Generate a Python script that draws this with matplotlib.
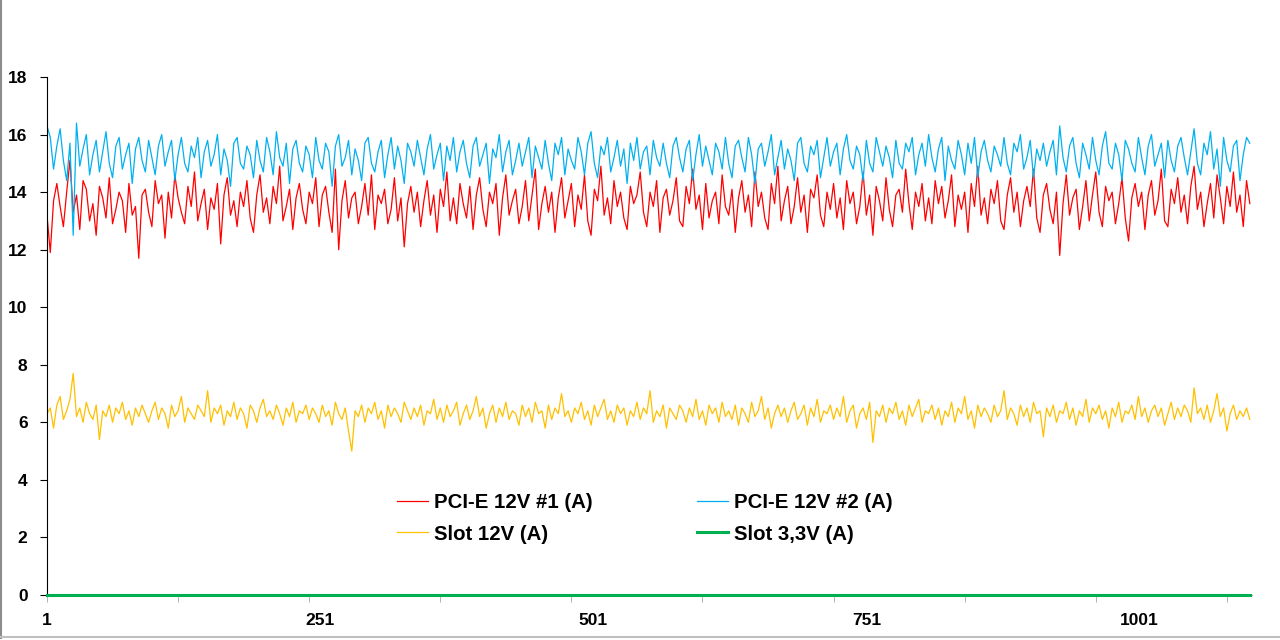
import numpy as np
import matplotlib
matplotlib.use("Agg")
import matplotlib.pyplot as plt
from matplotlib.lines import Line2D

plt.rcParams["font.family"] = ["Liberation Sans", "DejaVu Sans"]
plt.rcParams["font.weight"] = "bold"

# read every 3rd reading (readings 1, 4, 7, ...)
step = 3
n_samples = 1104

pcie1 = [
    13.2, 11.9, 13.7, 14.3, 13.5, 12.8, 14.0, 15.1, 13.3, 13.9, 12.7, 14.4, 14.1, 13.0, 13.6, 12.5,
    14.2, 13.8, 13.1, 14.5, 12.9, 13.4, 14.0, 13.7, 12.6, 14.3, 13.2, 13.5, 11.7, 13.9, 14.1, 13.3,
    12.8, 14.4, 13.6, 13.9, 12.4, 14.0, 13.1, 14.6, 13.8, 13.3, 12.9, 14.2, 13.5, 14.7, 13.0, 13.6,
    14.1, 12.7, 13.8, 13.4, 14.3, 12.2, 13.9, 14.5, 13.2, 13.7, 12.8, 14.0, 13.5, 14.4, 13.1, 12.6,
    13.9, 14.6, 13.3, 13.8, 12.9, 14.2, 13.6, 14.9, 13.0, 13.5, 14.1, 12.7, 13.8, 14.3, 13.4, 12.9,
    14.0, 13.6, 14.5, 12.8, 13.9, 14.2, 13.3, 12.6, 14.8, 12.0, 13.7, 14.4, 13.1, 13.8, 14.0, 12.9,
    13.5, 14.3, 13.2, 14.6, 12.7, 13.9, 13.6, 14.1, 12.9, 13.4, 14.5, 13.0, 13.8, 12.1, 13.6, 14.2,
    13.3, 14.0, 12.8, 13.7, 14.4, 13.2, 13.9, 12.6, 14.1, 13.5, 14.7, 13.0, 13.8, 12.9, 14.3, 13.6,
    13.1, 14.2, 12.7, 13.9, 14.5, 13.4, 12.8, 14.0, 13.6, 14.3, 12.5, 13.8, 14.6, 13.2, 13.7, 14.1,
    12.9, 13.5, 14.4, 13.0, 13.9, 14.8, 12.7, 13.6, 14.2, 13.3, 14.0, 12.6, 13.8, 14.5, 13.1, 13.7,
    14.3, 12.8, 13.9, 13.4, 14.6, 13.0, 12.5, 14.1, 13.7, 14.9, 13.2, 13.8, 12.9, 14.4, 13.5, 14.0,
    13.1, 12.7, 14.2, 13.6, 13.9, 14.7, 13.3, 12.8, 14.0, 13.5, 14.4, 12.6, 13.8, 14.1, 13.2, 13.7,
    14.5, 13.0, 12.8, 14.2, 13.6, 14.8, 13.4, 13.9, 12.7, 14.3, 13.1, 13.7, 14.0, 12.9, 14.6, 13.5,
    13.2, 14.1, 12.6, 13.8, 14.4, 13.3, 13.9, 12.8, 14.7, 13.5, 14.0, 13.1, 12.7, 14.3, 13.6, 14.9,
    13.0, 13.7, 14.2, 12.9, 13.5, 14.5, 13.3, 13.9, 12.6, 14.1, 13.8, 14.6, 13.2, 12.8, 14.0, 13.4,
    14.3, 13.1, 13.8, 12.7, 14.4, 13.6, 14.0, 12.9, 13.5, 14.7, 13.2, 13.9, 12.5, 14.2, 13.7, 13.0,
    14.5, 13.4, 12.8, 13.9, 14.1, 13.3, 14.8, 13.6, 12.7, 14.0, 13.5, 14.3, 13.0, 13.8, 12.9, 14.4,
    13.6, 14.2, 13.1, 13.7, 14.6, 12.8, 13.9, 13.4, 14.0, 12.6, 14.3, 13.5, 14.9, 13.2, 13.8, 12.9,
    14.1, 13.6, 14.4, 13.0, 12.7, 13.9, 14.5, 13.3, 14.0, 12.8, 13.7, 14.2, 13.5, 14.8, 13.1, 12.6,
    13.9, 14.3, 13.4, 12.9, 14.0, 11.8, 13.6, 14.6, 13.2, 13.8, 14.1, 12.7, 13.5, 14.4, 13.0, 13.9,
    14.7, 13.3, 12.8, 14.2, 13.7, 14.0, 12.9, 13.6, 14.5, 13.1, 12.3, 13.8, 14.3, 13.5, 14.0, 12.7,
    13.9, 14.4, 13.2, 13.7, 14.8, 13.0, 12.8, 14.1, 13.6, 14.5, 13.3, 13.9, 12.9, 14.2, 14.9, 13.4,
    14.0, 12.8, 13.6, 14.3, 13.1, 14.6, 13.8, 12.9, 14.2, 13.5, 14.7, 13.3, 13.9, 12.8, 14.4, 13.6,
]

pcie2 = [
    16.3, 15.9, 14.8, 15.6, 16.2, 15.1, 14.4, 15.7, 12.5, 16.4, 14.9, 15.5, 16.0, 14.6, 15.3, 15.8,
    14.7, 15.4, 16.1, 15.0, 14.5, 15.6, 15.9, 14.8, 15.3, 15.7, 14.3, 15.5, 15.9, 15.1, 14.7, 15.8,
    15.2, 14.6, 15.6, 16.0, 14.9, 15.4, 15.8, 14.4, 15.3, 15.9, 15.0, 14.7, 15.6, 15.2, 15.9, 14.5,
    15.4, 15.8, 14.9, 15.3, 16.0, 14.6, 15.5, 15.1, 14.2, 15.7, 15.9, 15.0, 14.8, 15.6, 15.3, 14.5,
    15.8, 15.1, 14.7, 15.9, 15.4, 14.6, 16.1, 15.2, 14.9, 15.7, 14.3, 15.5, 15.8, 15.0, 14.7, 15.6,
    15.3, 14.5, 15.9, 15.1, 14.8, 15.7, 15.4, 14.2, 15.6, 16.0, 14.9, 15.2, 15.8, 14.6, 15.5, 15.1,
    14.4, 15.7, 15.9, 15.0, 14.7, 15.4, 15.8, 14.5, 15.3, 15.9, 14.8, 15.6, 15.1, 14.3, 15.7, 15.4,
    14.9, 15.8, 15.2, 14.6, 15.5, 16.0, 14.8, 15.3, 15.7, 14.4, 15.6, 15.1, 15.9, 14.7, 15.4, 15.8,
    15.0, 14.5, 15.6, 15.9, 14.9, 15.3, 15.7, 14.3, 15.5, 15.2, 16.0, 14.7, 15.4, 15.8, 14.6, 15.1,
    15.7, 14.9, 15.4, 15.9, 14.5, 15.6, 15.2, 14.8, 15.8, 15.0, 14.4, 15.7, 15.3, 15.9, 14.6, 15.5,
    15.1, 14.8, 15.9, 15.4, 14.6, 15.7, 16.1, 15.0, 14.5, 15.6, 15.3, 15.9, 14.7, 15.2, 15.8, 14.9,
    15.5, 14.3, 15.7, 15.1, 15.9, 14.8, 15.4, 15.6, 14.6, 15.8, 15.2, 14.9, 15.7, 15.0, 14.5, 15.6,
    15.9, 15.2, 14.7, 15.5, 15.8, 14.4, 15.3, 16.0, 14.9, 15.6, 15.1, 14.6, 15.7, 15.4, 14.8, 15.9,
    15.0, 14.5, 15.6, 15.8, 15.2, 14.7, 15.9, 15.3, 14.3, 15.5, 15.7, 14.9, 15.4, 16.0, 14.6, 15.2,
    15.8, 14.8, 15.5, 15.1, 14.4, 15.7, 15.9, 15.0, 14.7, 15.6, 15.3, 15.8, 14.5, 15.2, 15.9, 14.9,
    15.4, 15.7, 14.6, 15.5, 16.0, 15.1, 14.8, 15.6, 15.3, 14.4, 15.8, 15.0, 14.7, 15.9, 15.4, 14.9,
    15.6, 15.2, 14.5, 15.8, 15.0, 14.8, 15.7, 15.4, 15.9, 14.6, 15.3, 15.7, 14.9, 16.0, 15.2, 14.7,
    15.5, 15.9, 14.4, 15.6, 15.1, 14.8, 15.8, 15.3, 14.6, 15.7, 15.0, 15.9, 14.5, 15.4, 15.8, 15.1,
    14.7, 15.6, 15.3, 14.9, 15.9, 15.0, 14.6, 15.7, 15.4, 16.0, 14.8, 15.2, 15.8, 14.5, 15.5, 15.1,
    15.7, 14.9, 15.4, 15.8, 14.6, 16.3, 15.2, 14.7, 15.6, 15.9, 15.0, 14.5, 15.7, 15.3, 14.8, 15.9,
    15.1, 14.6, 15.6, 16.1, 15.0, 14.8, 15.7, 15.3, 14.4, 15.8, 15.5, 15.0, 14.7, 15.9, 15.2, 14.6,
    15.6, 16.0, 14.9, 15.3, 15.7, 14.5, 15.8, 15.1, 14.7, 15.6, 15.9, 15.2, 14.6, 15.4, 16.2, 15.0,
    14.6, 15.7, 15.3, 16.1, 14.8, 15.5, 14.2, 15.9, 15.1, 14.7, 15.6, 15.8, 14.4, 15.3, 15.9, 15.7,
]

slot12 = [
    6.3, 6.5, 5.8, 6.6, 6.9, 6.1, 6.4, 6.8, 7.7, 6.2, 6.5, 6.0, 6.7, 6.3, 6.1, 6.6,
    5.4, 6.4, 6.2, 6.6, 6.0, 6.5, 6.3, 6.7, 6.1, 6.4, 5.9, 6.5, 6.2, 6.6, 6.3, 6.0,
    6.4, 6.7, 6.1, 6.5, 6.3, 5.8, 6.6, 6.2, 6.4, 6.9, 6.0, 6.5, 6.3, 6.1, 6.6, 6.4,
    6.2, 7.1, 6.0, 6.5, 6.3, 6.6, 5.9, 6.4, 6.2, 6.7, 6.1, 6.5, 6.3, 5.8, 6.6, 6.4,
    6.0, 6.5, 6.8, 6.2, 6.4, 6.1, 6.6, 6.3, 5.9, 6.5, 6.2, 6.7, 6.0, 6.4, 6.3, 6.6,
    6.1, 6.5, 6.3, 6.0, 6.6, 6.2, 6.4, 5.9, 6.7, 6.3, 6.1, 6.5, 5.7, 5.0, 6.4, 6.2,
    6.6, 6.0, 6.5, 6.3, 6.7, 6.1, 6.4, 5.8, 6.6, 6.2, 6.5, 6.3, 6.0, 6.7, 6.4, 6.1,
    6.5, 6.2, 6.6, 5.9, 6.4, 6.3, 6.8, 6.1, 6.5, 6.0, 6.6, 6.2, 6.4, 6.7, 5.9, 6.3,
    6.6, 6.1, 6.4, 6.9, 6.2, 6.5, 5.8, 6.3, 6.6, 6.0, 6.5, 6.2, 6.7, 6.1, 6.4, 6.3,
    5.9, 6.6, 6.2, 6.5, 6.0, 6.7, 6.3, 6.4, 5.8, 6.6, 6.1, 6.5, 6.3, 7.0, 6.2, 6.4,
    6.0, 6.5, 6.3, 6.7, 6.1, 6.4, 5.9, 6.6, 6.2, 6.5, 6.8, 6.1, 6.4, 6.0, 6.6, 6.3,
    6.5, 5.9, 6.4, 6.2, 6.7, 6.1, 6.5, 6.3, 7.1, 6.0, 6.4, 6.2, 6.6, 5.8, 6.5, 6.3,
    6.1, 6.6, 6.4, 6.0, 6.5, 6.2, 6.8, 6.1, 6.4, 5.9, 6.6, 6.3, 6.5, 6.0, 6.7, 6.2,
    6.4, 6.1, 6.6, 5.9, 6.5, 6.3, 6.0, 6.7, 6.2, 6.4, 6.9, 6.1, 6.5, 5.8, 6.3, 6.6,
    6.2, 6.5, 6.0, 6.4, 6.7, 6.1, 6.3, 6.6, 5.9, 6.5, 6.2, 6.8, 6.0, 6.4, 6.3, 6.6,
    6.1, 6.5, 6.2, 6.9, 6.0, 6.4, 6.6, 5.8, 6.3, 6.5, 6.1, 6.7, 5.3, 6.4, 6.2, 6.6,
    6.0, 6.5, 6.3, 6.7, 6.1, 6.4, 5.9, 6.6, 6.2, 6.5, 6.8, 6.0, 6.4, 6.3, 6.6, 6.1,
    6.5, 5.9, 6.4, 6.2, 6.7, 6.0, 6.5, 6.3, 6.9, 6.1, 6.4, 5.8, 6.6, 6.2, 6.5, 6.3,
    6.0, 6.6, 6.2, 6.4, 7.1, 6.1, 6.5, 6.3, 5.9, 6.6, 6.2, 6.5, 6.0, 6.7, 6.3, 6.4,
    5.5, 6.5, 6.2, 6.6, 6.0, 6.4, 6.3, 6.7, 6.1, 6.5, 5.9, 6.4, 6.2, 6.8, 6.0, 6.5,
    6.3, 6.6, 6.1, 6.4, 5.8, 6.5, 6.2, 6.7, 6.0, 6.4, 6.3, 6.6, 6.1, 6.9, 6.2, 6.5,
    6.0, 6.4, 6.6, 6.2, 6.5, 5.9, 6.3, 6.7, 6.1, 6.5, 6.2, 6.6, 6.4, 6.0, 7.2, 6.3,
    6.5, 6.1, 6.6, 6.0, 6.4, 7.0, 6.2, 6.5, 5.7, 6.3, 6.6, 6.1, 6.4, 6.2, 6.5, 6.1,
]

# the 3,3V slot rail stays at zero the whole run
slot33 = [0.0] * len(pcie1)

labels = ["PCI-E 12V #1 (A)", "PCI-E 12V #2 (A)", "Slot 12V (A)", "Slot 3,3V (A)"]
colors = ["#FF0000", "#00B0F0", "#FFC000", "#00B050"]
x_labels = ["1", "251", "501", "751", "1001"]

fig = plt.figure(figsize=(12.8, 6.4), dpi=100)
ax = fig.add_axes([47 / 1280, 45 / 640, 1205 / 1280, 518 / 640])

series = [pcie1, pcie2, slot12, slot33]
widths = [0.9, 0.9, 0.9, 2.2]
handles = []
for vals, lab, col, lw in zip(series, labels, colors, widths):
    xs = np.arange(1, step * len(vals) + 1, step)
    thick = lw > 2
    h, = ax.plot(xs, vals, color=col, lw=lw, label=lab, zorder=3 if thick else 2,
                 clip_on=not thick)
    handles.append(h)

ax.set_xlim(1, n_samples)
ax.set_ylim(0, 18)
ax.set_yticks(range(0, 19, 2))

# labels every 250 readings, tick marks every 120 (Excel style axis)
ax.xaxis.remove_overlapping_locs = False
ax.set_xticks([int(s) for s in x_labels])
ax.set_xticklabels(x_labels)
ax.set_xticks(np.arange(1, n_samples, 120), minor=True)
ax.tick_params(axis="x", which="major", length=0, pad=13, labelsize=12.5)
ax.tick_params(axis="x", which="minor", length=5, color="#a6a6a6", direction="out")
ax.tick_params(axis="y", length=5, color="black", direction="out", labelsize=12.5, pad=9)

for side in ["top", "right"]:
    ax.spines[side].set_visible(False)
ax.spines["left"].set_color("black")
ax.spines["bottom"].set_color("#a6a6a6")

# row-wise order: #1, #2 on top, slot rails below
order = [0, 2, 1, 3]
ax.legend([handles[i] for i in order], [labels[i] for i in order],
          loc="center", bbox_to_anchor=(0.504, 0.19), bbox_transform=fig.transFigure,
          ncol=2, frameon=False, fontsize=14.7, handlelength=1.52, handletextpad=0.3,
          columnspacing=5.1, labelspacing=0.6)

# chart border seen on the left and bottom edge of the crop
fig.add_artist(Line2D([0.001, 0.001], [0.003, 1], color="#8c8c8c", lw=1.5, transform=fig.transFigure))
fig.add_artist(Line2D([0, 1], [0.004, 0.004], color="#bfbfbf", lw=1.5, transform=fig.transFigure))

fig.savefig("out.png", dpi=100)
